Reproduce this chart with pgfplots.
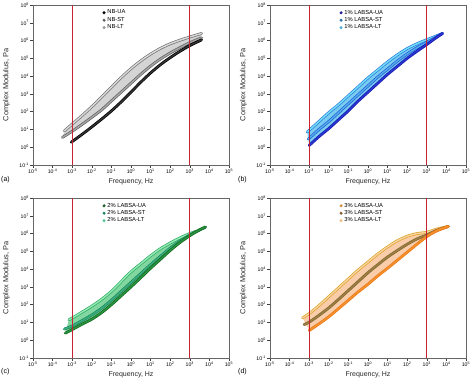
\documentclass[border=0pt]{standalone}
\usepackage{pgfplots}
\pgfplotsset{compat=1.18}
\usepackage{pgfplotstable}
\usepgfplotslibrary{fillbetween}
\usepackage{fontspec}
\setmainfont{Liberation Sans}

\definecolor{redline}{RGB}{200,35,50}
\tikzset{vline/.style={draw=redline, line width=1.05pt}}

% ---- data: log10(frequency / Hz)  log10(complex modulus / Pa)
\pgfplotstableread{
x y
-3.05 0.28
-2.5 0.72
-2.0 1.14
-1.5 1.58
-1.0 2.04
-0.5 2.55
0.0 3.10
0.5 3.66
1.0 4.18
1.5 4.64
2.0 5.04
2.5 5.40
3.0 5.72
3.3 5.88
3.6 6.04
}\aUA
\pgfplotstableread{
x y
-3.5 0.55
-3.0 0.90
-2.5 1.28
-2.0 1.68
-1.5 2.10
-1.0 2.60
-0.5 3.10
0.0 3.60
0.5 4.10
1.0 4.56
1.5 4.96
2.0 5.30
2.5 5.60
3.0 5.88
3.3 6.02
3.6 6.15
}\aST
\pgfplotstableread{
x y
-3.4 0.92
-3.0 1.30
-2.5 1.78
-2.0 2.28
-1.5 2.82
-1.0 3.38
-0.5 3.92
0.0 4.42
0.5 4.86
1.0 5.24
1.5 5.56
2.0 5.82
2.5 6.02
3.0 6.20
3.3 6.30
3.6 6.40
}\aLT
\pgfplotstableread{
x y
-3.0 0.10
-2.5 0.60
-2.0 1.05
-1.5 1.55
-1.0 2.05
-0.5 2.60
0.0 3.10
0.5 3.60
1.0 4.10
1.5 4.55
2.0 5.00
2.5 5.40
3.0 5.78
3.4 6.10
3.8 6.40
}\bUA
\pgfplotstableread{
x y
-3.05 0.45
-2.5 1.00
-2.0 1.45
-1.5 1.95
-1.0 2.45
-0.5 2.95
0.0 3.45
0.5 3.95
1.0 4.40
1.5 4.85
2.0 5.25
2.5 5.60
3.0 5.90
3.4 6.15
3.8 6.40
}\bST
\pgfplotstableread{
x y
-3.1 0.85
-2.5 1.45
-2.0 1.95
-1.5 2.40
-1.0 2.90
-0.5 3.40
0.0 3.90
0.5 4.35
1.0 4.80
1.5 5.20
2.0 5.55
2.5 5.82
3.0 6.05
3.4 6.22
3.8 6.40
}\bLT
\pgfplotstableread{
x y
-3.35 0.40
-3.0 0.60
-2.5 0.90
-2.0 1.18
-1.5 1.55
-1.0 2.00
-0.5 2.50
0.0 3.00
0.5 3.52
1.0 4.05
1.5 4.55
2.0 5.05
2.5 5.50
3.0 5.88
3.4 6.15
3.8 6.37
}\cUA
\pgfplotstableread{
x y
-3.4 0.63
-3.0 0.80
-2.5 1.10
-2.0 1.42
-1.5 1.80
-1.0 2.25
-0.5 2.75
0.0 3.25
0.5 3.75
1.0 4.25
1.5 4.72
2.0 5.18
2.5 5.58
3.0 5.92
3.4 6.15
3.8 6.36
}\cST
\pgfplotstableread{
x y
-3.17 1.15
-3.0 1.25
-2.5 1.58
-2.0 1.92
-1.5 2.30
-1.0 2.75
-0.5 3.30
0.0 3.85
0.5 4.30
1.0 4.75
1.5 5.15
2.0 5.47
2.5 5.76
3.0 6.00
3.3 6.12
}\cLT
\pgfplotstableread{
x y
-3.0 0.55
-2.5 0.92
-2.0 1.32
-1.5 1.78
-1.0 2.25
-0.5 2.72
0.0 3.15
0.5 3.62
1.0 4.05
1.5 4.50
2.0 4.95
2.5 5.40
3.0 5.83
3.5 6.15
4.1 6.40
}\dUA
\pgfplotstableread{
x y
-3.26 0.88
-3.0 1.02
-2.5 1.40
-2.0 1.82
-1.5 2.30
-1.0 2.80
-0.5 3.30
0.0 3.80
0.5 4.25
1.0 4.68
1.5 5.05
2.0 5.40
2.5 5.70
3.0 5.92
3.5 6.18
4.1 6.40
}\dST
\pgfplotstableread{
x y
-3.34 1.26
-3.0 1.50
-2.5 1.95
-2.0 2.45
-1.5 2.95
-1.0 3.45
-0.5 3.95
0.0 4.40
0.5 4.85
1.0 5.25
1.5 5.60
2.0 5.85
2.5 6.00
3.0 6.07
3.5 6.25
4.1 6.40
}\dLT

\pgfplotsset{
  panel/.style={
    scale only axis, width=196pt, height=160pt, anchor=south west,
    xmin=-5, xmax=5, ymin=-1, ymax=8,
    xtick={-5,-4,-3,-2,-1,0,1,2,3,4,5},
    xticklabels={10\textsuperscript{-5},10\textsuperscript{-4},10\textsuperscript{-3},10\textsuperscript{-2},10\textsuperscript{-1},10\textsuperscript{0},10\textsuperscript{1},10\textsuperscript{2},10\textsuperscript{3},10\textsuperscript{4},10\textsuperscript{5}},
    ytick={-1,0,1,2,3,4,5,6,7,8},
    yticklabels={10\textsuperscript{-1},10\textsuperscript{0},10\textsuperscript{1},10\textsuperscript{2},10\textsuperscript{3},10\textsuperscript{4},10\textsuperscript{5},10\textsuperscript{6},10\textsuperscript{7},10\textsuperscript{8}},
    minor xtick={-4.699,-4.523,-4.398,-4.301,-4.222,-4.155,-4.097,-4.046,
      -3.699,-3.523,-3.398,-3.301,-3.222,-3.155,-3.097,-3.046,
      -2.699,-2.523,-2.398,-2.301,-2.222,-2.155,-2.097,-2.046,
      -1.699,-1.523,-1.398,-1.301,-1.222,-1.155,-1.097,-1.046,
      -0.699,-0.523,-0.398,-0.301,-0.222,-0.155,-0.097,-0.046,
      0.301,0.477,0.602,0.699,0.778,0.845,0.903,0.954,
      1.301,1.477,1.602,1.699,1.778,1.845,1.903,1.954,
      2.301,2.477,2.602,2.699,2.778,2.845,2.903,2.954,
      3.301,3.477,3.602,3.699,3.778,3.845,3.903,3.954,
      4.301,4.477,4.602,4.699,4.778,4.845,4.903,4.954},
    tick align=outside, xtick pos=left, ytick pos=left,
    major tick length=2.6pt, minor tick length=1.4pt,
    every tick/.style={black!75, line width=0.4pt},
    axis line style={black!60, line width=0.5pt},
    ticklabel style={font=\fontsize{5.2}{6}\selectfont, inner sep=1.2pt},
    every axis x label/.style={at={(axis description cs:0.5,-0.105)}, anchor=center, font=\fontsize{7}{8}\selectfont, text=black!85},
    every axis y label/.style={at={(axis description cs:-0.135,0.5)}, rotate=90, anchor=center, font=\fontsize{7.4}{8}\selectfont, text=black!85},
    xlabel={Frequency, Hz}, ylabel={Complex Modulus, Pa},
    legend style={draw=none, fill=none, at={(axis description cs:0.355,0.975)}, anchor=north west,
      font=\fontsize{5.8}{6.8}\selectfont, inner sep=0pt, row sep=0.3pt,
      nodes={inner xsep=2pt, inner ysep=0.8pt}},
    legend cell align=left,
    legend image code/.code={\draw[mark repeat=2,mark phase=2,##1] plot coordinates {(0cm,0cm) (0.1cm,0cm) (0.2cm,0cm)};},
  },
  edge/.style={line width=2.8pt, line cap=round, line join=round, smooth},
  core/.style={line width=1.4pt, line cap=round, line join=round, smooth},
  lg/.style={only marks, mark=*, mark size=1.3pt},
}

\begin{document}
\begin{tikzpicture}

% ---------- (a)
\begin{axis}[panel, at={(33pt,220pt)}]
\addlegendimage{lg, black}
\addlegendimage{lg, black!65}
\addlegendimage{lg, black!40}
\legend{NB-UA, NB-ST, NB-LT}
\addplot[draw=none, name path=aB, smooth] table {\aST};
\addplot[draw=none, name path=aT, smooth] table {\aLT};
\addplot[fill=black!17] fill between[of=aB and aT];
\addplot[edge, black!55] table {\aLT};
\addplot[core, black!15] table {\aLT};
\addplot[edge, black!62] table {\aST};
\addplot[core, black!35] table {\aST};
\addplot[edge, black] table {\aUA};
\addplot[core, black!80] table {\aUA};
\draw[vline] (axis cs:-3,-1) -- (axis cs:-3,8);
\draw[vline] (axis cs:3,-1) -- (axis cs:3,8);
\end{axis}

% ---------- (b)
\begin{axis}[panel, at={(270pt,220pt)}]
\addlegendimage{lg, color={rgb,255:red,25;green,25;blue,150}}
\addlegendimage{lg, color={rgb,255:red,40;green,110;blue,170}}
\addlegendimage{lg, color={rgb,255:red,80;green,175;blue,225}}
\legend{1\% LABSA-UA, 1\% LABSA-ST, 1\% LABSA-LT}
\addplot[draw=none, name path=bB, smooth] table {\bUA};
\addplot[draw=none, name path=bT, smooth] table {\bLT};
\addplot[fill={rgb,255:red,120;green,205;blue,240}] fill between[of=bB and bT];
\addplot[edge, color={rgb,255:red,45;green,120;blue,225}] table {\bLT};
\addplot[core, color={rgb,255:red,115;green,225;blue,245}] table {\bLT};
\addplot[edge, color={rgb,255:red,40;green,90;blue,215}] table {\bST};
\addplot[core, color={rgb,255:red,80;green,175;blue,235}] table {\bST};
\addplot[edge, color={rgb,255:red,25;green,25;blue,175}] table {\bUA};
\addplot[core, color={rgb,255:red,40;green,55;blue,210}] table {\bUA};
\draw[vline] (axis cs:-3,-1) -- (axis cs:-3,8);
\draw[vline] (axis cs:3,-1) -- (axis cs:3,8);
\end{axis}

% ---------- (c)
\begin{axis}[panel, at={(33pt,27pt)}]
\addlegendimage{lg, color={rgb,255:red,25;green,90;blue,35}}
\addlegendimage{lg, color={rgb,255:red,25;green,130;blue,95}}
\addlegendimage{lg, color={rgb,255:red,80;green,200;blue,145}}
\legend{2\% LABSA-UA, 2\% LABSA-ST, 2\% LABSA-LT}
\addplot[draw=none, name path=cB, smooth] table {\cUA};
\addplot[draw=none, name path=cT, smooth] table {\cLT};
\addplot[fill={rgb,255:red,130;green,215;blue,160}] fill between[of=cB and cT];
\addplot[edge, color={rgb,255:red,45;green,170;blue,100}] table {\cLT};
\addplot[core, color={rgb,255:red,150;green,235;blue,180}] table {\cLT};
\addplot[edge, color={rgb,255:red,25;green,135;blue,95}] table {\cST};
\addplot[core, color={rgb,255:red,60;green,175;blue,125}] table {\cST};
\addplot[edge, color={rgb,255:red,20;green,100;blue,35}] table {\cUA};
\addplot[core, color={rgb,255:red,40;green,150;blue,60}] table {\cUA};
\draw[vline] (axis cs:-3,-1) -- (axis cs:-3,8);
\draw[vline] (axis cs:3,-1) -- (axis cs:3,8);
\end{axis}

% ---------- (d)
\begin{axis}[panel, at={(270pt,27pt)}]
\addlegendimage{lg, color={rgb,255:red,205;green,140;blue,60}}
\addlegendimage{lg, color={rgb,255:red,135;green,90;blue,45}}
\addlegendimage{lg, color={rgb,255:red,240;green,190;blue,130}}
\legend{3\% LABSA-UA, 3\% LABSA-ST, 3\% LABSA-LT}
\addplot[draw=none, name path=dB, smooth] table {\dUA};
\addplot[draw=none, name path=dT, smooth] table {\dLT};
\addplot[fill={rgb,255:red,250;green,205;blue,170}] fill between[of=dB and dT];
\addplot[edge, color={rgb,255:red,220;green,165;blue,40}] table {\dLT};
\addplot[core, color={rgb,255:red,248;green,210;blue,160}] table {\dLT};
\addplot[edge, color={rgb,255:red,125;green,105;blue,50}] table {\dST};
\addplot[core, color={rgb,255:red,160;green,125;blue,65}] table {\dST};
\addplot[edge, color={rgb,255:red,235;green,120;blue,25}] table {\dUA};
\addplot[core, color={rgb,255:red,245;green,145;blue,45}] table {\dUA};
\draw[vline] (axis cs:-3,-1) -- (axis cs:-3,8);
\draw[vline] (axis cs:3,-1) -- (axis cs:3,8);
\end{axis}

\node[font=\fontsize{7}{8}\selectfont, anchor=west, inner sep=0pt] at (1pt,205pt) {(a)};
\node[font=\fontsize{7}{8}\selectfont, anchor=west, inner sep=0pt] at (238pt,205pt) {(b)};
\node[font=\fontsize{7}{8}\selectfont, anchor=west, inner sep=0pt] at (1pt,13pt) {(c)};
\node[font=\fontsize{7}{8}\selectfont, anchor=west, inner sep=0pt] at (238pt,13pt) {(d)};
\pgfresetboundingbox
\path[use as bounding box] (0pt,0pt) rectangle (474pt,385pt);
\end{tikzpicture}
\end{document}
